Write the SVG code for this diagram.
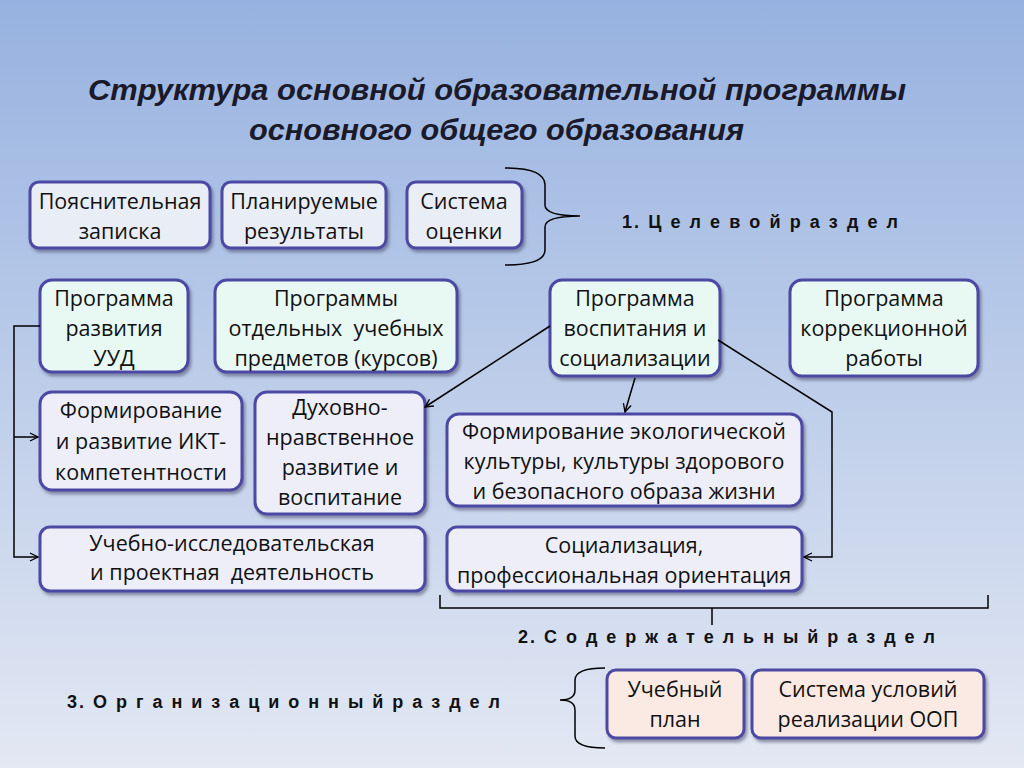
<svg xmlns="http://www.w3.org/2000/svg" width="1024" height="768" viewBox="0 0 1024 768">
<defs>
<linearGradient id="bg" x1="0" y1="0" x2="0" y2="1"><stop offset="0" stop-color="#97b2e0"/><stop offset="1" stop-color="#e3e8f3"/></linearGradient>
<marker id="ar" markerWidth="10" markerHeight="10" refX="9" refY="5" orient="auto" markerUnits="userSpaceOnUse"><path d="M1,1 L9,5 L1,9" fill="none" stroke="#000" stroke-width="1.3"/></marker>
<filter id="sh" x="-10%" y="-10%" width="130%" height="130%"><feDropShadow dx="2" dy="3" stdDeviation="1.5" flood-color="#404060" flood-opacity="0.5"/></filter>
</defs>
<style>
.b{stroke:#4b4aa3;stroke-width:3;filter:url(#sh)}
.g{fill:#e9edf5}.m{fill:#e8f8f3}.l{fill:#eeeef9}.p{fill:#fbeae3}
.t{font-family:"Open Sans","Liberation Sans",sans-serif;font-size:21.5px;fill:#111;text-anchor:middle}
.h{font-family:"Liberation Sans",sans-serif;font-size:18px;font-weight:bold;fill:#111}
.c{fill:none;stroke:#000;stroke-width:1.5}
</style>
<rect width="1024" height="768" fill="url(#bg)"/>
<g font-family="Liberation Sans,sans-serif" font-size="29" font-style="italic" font-weight="bold" fill="#1a1a2a">
<text x="88" y="100" textLength="818" lengthAdjust="spacingAndGlyphs">Структура основной образовательной программы</text>
<text x="249" y="140" textLength="495" lengthAdjust="spacingAndGlyphs">основного общего образования</text></g>

<g id="n1"><rect class="b g" x="30" y="182" width="180" height="66" rx="9"/><text class="t" x="120" y="209">Пояснительная</text><text class="t" x="120" y="239">записка</text></g>
<g id="n2"><rect class="b g" x="222" y="182" width="164" height="66" rx="9"/><text class="t" x="304" y="209">Планируемые</text><text class="t" x="304" y="239">результаты</text></g>
<g id="n3"><rect class="b g" x="407" y="182" width="115" height="66" rx="9"/><text class="t" x="464" y="209">Система</text><text class="t" x="464" y="239">оценки</text></g>

<g id="n4"><rect class="b m" x="40" y="280" width="148" height="92" rx="12"/><text class="t" x="114" y="306">Программа</text><text class="t" x="114" y="336">развития</text><text class="t" x="114" y="366">УУД</text></g>
<g id="n5"><rect class="b m" x="215" y="280" width="242" height="92" rx="12"/><text class="t" x="336" y="306">Программы</text><text class="t" x="336" y="336" xml:space="preserve">отдельных  учебных</text><text class="t" x="336" y="366">предметов (курсов)</text></g>
<g id="n6"><rect class="b m" x="550" y="280" width="170" height="96" rx="12"/><text class="t" x="635" y="306">Программа</text><text class="t" x="635" y="336">воспитания и</text><text class="t" x="635" y="366">социализации</text></g>
<g id="n7"><rect class="b m" x="790" y="280" width="188" height="96" rx="12"/><text class="t" x="884" y="306">Программа</text><text class="t" x="884" y="336">коррекционной</text><text class="t" x="884" y="366">работы</text></g>

<g id="n8"><rect class="b l" x="40" y="392" width="202" height="98" rx="12"/><text class="t" x="141" y="418">Формирование</text><text class="t" x="141" y="449">и развитие ИКТ-</text><text class="t" x="141" y="480">компетентности</text></g>
<g id="n9"><rect class="b l" x="255" y="392" width="170" height="122" rx="12"/><text class="t" x="340" y="415">Духовно-</text><text class="t" x="340" y="445">нравственное</text><text class="t" x="340" y="475">развитие и</text><text class="t" x="340" y="505">воспитание</text></g>
<g id="n10"><rect class="b l" x="447" y="414" width="355" height="92" rx="12"/><text class="t" x="624" y="439">Формирование экологической</text><text class="t" x="624" y="469">культуры, культуры здорового</text><text class="t" x="624" y="499">и безопасного образа жизни</text></g>
<g id="n11"><rect class="b l" x="40" y="527" width="385" height="64" rx="10"/><text class="t" x="232" y="551">Учебно-исследовательская</text><text class="t" x="232" y="580" xml:space="preserve">и проектная  деятельность</text></g>
<g id="n12"><rect class="b l" x="447" y="527" width="355" height="64" rx="10"/><text class="t" x="624" y="553">Социализация,</text><text class="t" x="624" y="583">профессиональная ориентация</text></g>

<g id="n13"><rect class="b p" x="607" y="670" width="137" height="68" rx="9"/><text class="t" x="675" y="697">Учебный</text><text class="t" x="675" y="727">план</text></g>
<g id="n14"><rect class="b p" x="752" y="670" width="232" height="68" rx="9"/><text class="t" x="868" y="697">Система условий</text><text class="t" x="868" y="727">реализации ООП</text></g>

<g id="connectors">
<path class="c" d="M505,168 Q545,168 545,185 L545,205 Q545,216 580,216 Q545,216 545,227 L545,250 Q545,265 505,265"/>
<path class="c" d="M440,595 L440,608 L712,608 L712,625 M712,608 L988,608 L988,595"/>
<path class="c" d="M605,668 Q575,668 575,680 L575,690 Q575,700 560,700 Q575,700 575,710 L575,736 Q575,748 605,748"/>
<path class="c" d="M40,326 L14,326 L14,557 L38,557" marker-end="url(#ar)"/>
<path class="c" d="M14,437 L38,437" marker-end="url(#ar)"/>
<path class="c" d="M550,326 L425,407" marker-end="url(#ar)"/>
<path class="c" d="M635,378 L625,412" marker-end="url(#ar)"/>
<path class="c" d="M718,340 L832,412 L832,557 L804,557" marker-end="url(#ar)"/>
</g>
<text class="h" x="622" y="228" textLength="276" lengthAdjust="spacing">1. Ц е л е в о й р а з д е л</text>
<text class="h" x="518" y="643" textLength="417" lengthAdjust="spacing">2. С о д е р ж а т е л ь н ы й р а з д е л</text>
<text class="h" x="67" y="708" textLength="433" lengthAdjust="spacing">3. О р г а н и з а ц и о н н ы й р а з д е л</text>
</svg>
